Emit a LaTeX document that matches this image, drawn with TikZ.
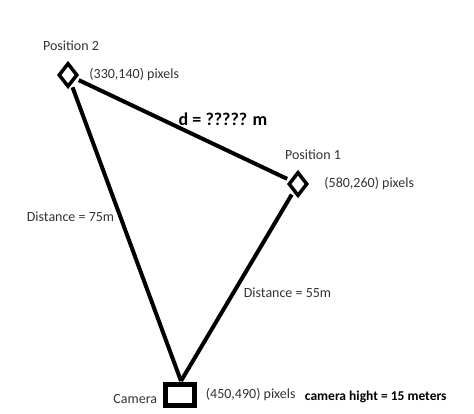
\documentclass[tikz,border=0pt]{standalone}
\usepackage{fontspec}
\setmainfont{Carlito}
\usetikzlibrary{positioning,shapes.geometric}
\tikzset{
  spot/.style={
    diamond,
    draw=black, line width=3.5pt,
    inner sep=0pt,
    minimum width=19pt,
    minimum height=24pt},
  cambox/.style={
    rectangle,
    draw=black, line width=4.5pt,
    minimum width=29pt,
    minimum height=21pt},
  lbl/.style={font=\fontsize{14}{16}\selectfont, text=black!80, inner sep=0pt},
  boldlbl/.style={font=\fontsize{13.5}{16}\selectfont\bfseries, inner sep=0pt},
  biglbl/.style={font=\fontsize{18}{21}\selectfont\bfseries, inner sep=0pt},
  leg/.style={draw, line width=4pt},
}
\begin{document}
\begin{tikzpicture}[x=1pt,y=-1pt]
  \useasboundingbox (0,0) rectangle (474,413);
  % the two positions and the camera
  \node[spot] (pos2) at (68,75) {};
  \node[spot] (pos1) at (298,184) {};
  \node[cambox] (cam) at (180,395) {};
  \coordinate (camtop) at (181,381);

  % labels
  \node[lbl, above=10pt of pos2, xshift=3pt] (pos2name) {Position 2};
  \node[lbl, right=10pt of pos2] (pos2px) {(330,140) pixels};
  \node[lbl, above=10pt of pos1, xshift=15pt] (pos1name) {Position 1};
  \node[lbl, right=15pt of pos1] (pos1px) {(580,260) pixels};
  \node[lbl, left=6pt of cam, yshift=-4pt] (camname) {Camera};
  \node[lbl, right=9pt of cam] (campx) {(450,490) pixels};
  \node[boldlbl, right=9pt of campx, yshift=-2pt] (camh) {camera hight = 15 meters};
  \node[biglbl] (dist) at (223,119) {d = ????? m};
  \node[lbl] (dleft) at (70.5,217) {Distance = 75m};
  \node[lbl] (dright) at (287.5,293) {Distance = 55m};

  % connectors
  \draw[leg, shorten <=3pt, shorten >=3pt] (pos2) -- (pos1);
  \draw[leg, shorten <=3pt] (pos2) -- (camtop);
  \draw[leg, shorten <=3pt] (pos1) -- (camtop);
\end{tikzpicture}
\end{document}
